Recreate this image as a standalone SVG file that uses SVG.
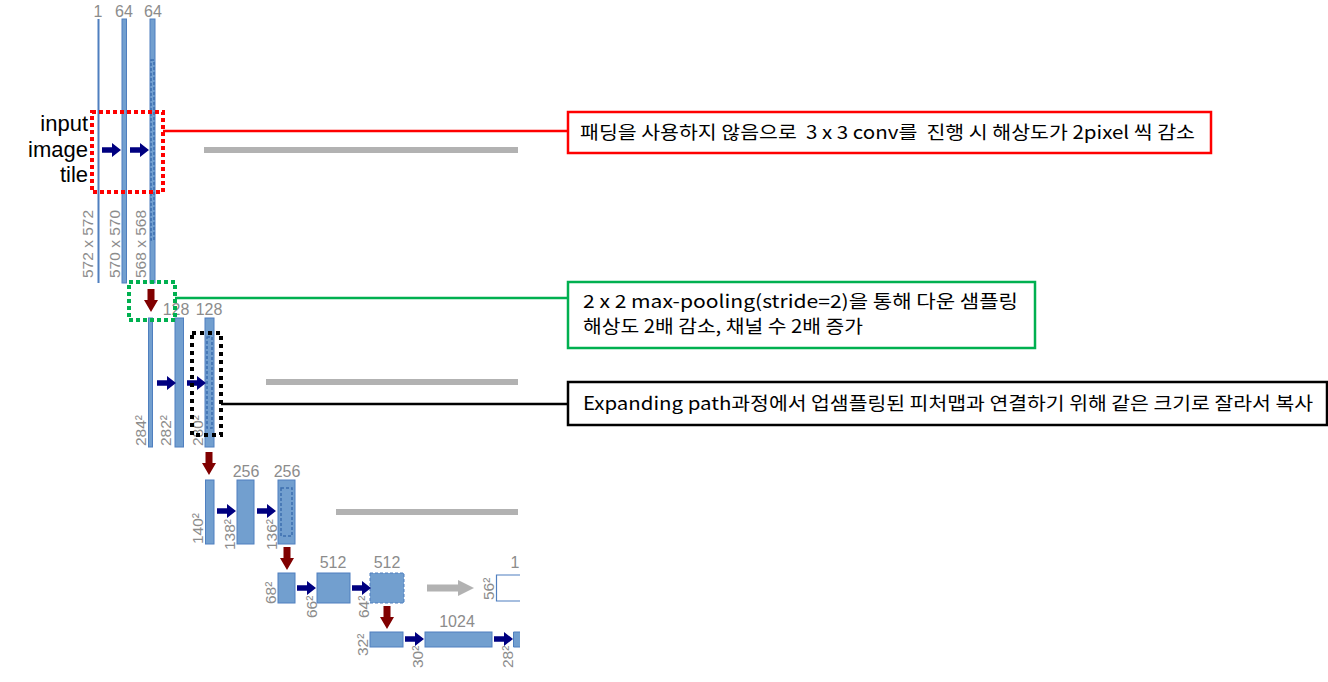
<svg xmlns="http://www.w3.org/2000/svg" width="1328" height="682" viewBox="0 0 1328 682">
<style>
.bar{fill:#729fcf;stroke:#4f7fbf;stroke-width:1}
.num{font-family:"Liberation Sans",Arial,sans-serif;font-size:16px;fill:#8c8c8c}
.dim{font-family:"Liberation Sans",Arial,sans-serif;font-size:15.5px;fill:#8c8c8c}
.kr{font-family:"Noto Sans CJK KR","Noto Sans",sans-serif;font-size:18px;fill:#000}
.lbl{font-family:"Liberation Sans",Arial,sans-serif;font-size:22px;fill:#000;text-anchor:end}
.inner{fill:none;stroke:#3d6fb0;stroke-width:1.5;stroke-dasharray:3 2}
.gray{fill:#b2b2b2}
</style>
<defs>
<path id="ar" d="M0,-2.8 H10 V-7 L19,0 L10,7 V2.8 H0 Z" fill="#000080"/>
<path id="dn" d="M-3.5,0 H3.5 V11 H7 L0,23 L-7,11 H-3.5 Z" fill="#800000"/>
</defs>
<rect width="1328" height="682" fill="#fff"/>

<g id="level1">
<rect x="97.5" y="19" width="2" height="264" fill="#4f7fbf"/>
<rect class="bar" x="122" y="19" width="4.5" height="264"/>
<rect class="bar" x="150" y="19" width="5" height="264"/>
<rect class="inner" x="151" y="60" width="3" height="180"/>
<text class="num" x="98" y="17" text-anchor="middle">1</text>
<text class="num" x="124" y="17" text-anchor="middle">64</text>
<text class="num" x="153" y="17" text-anchor="middle">64</text>
<text class="dim" transform="translate(93,278) rotate(-90)">572 x 572</text>
<text class="dim" transform="translate(120,278) rotate(-90)">570 x 570</text>
<text class="dim" transform="translate(146,278) rotate(-90)">568 x 568</text>
<text class="lbl" x="88" y="131">input</text>
<text class="lbl" x="88" y="157">image</text>
<text class="lbl" x="88" y="182">tile</text>
<use href="#ar" x="102" y="150"/>
<use href="#ar" x="130" y="150"/>
<rect class="gray" x="204" y="147" width="314" height="6"/>
<use href="#dn" x="151" y="289"/>
</g>

<g id="level2">
<rect class="bar" x="148.5" y="318" width="4" height="129"/>
<rect class="bar" x="175" y="318" width="8.5" height="129"/>
<rect class="bar" x="205" y="318" width="9" height="129"/>
<rect class="inner" x="207" y="337" width="5" height="91"/>
<text class="num" x="176" y="315" text-anchor="middle">128</text>
<text class="num" x="209" y="315" text-anchor="middle">128</text>
<text class="dim" transform="translate(146,446) rotate(-90)">284²</text>
<text class="dim" transform="translate(171,446) rotate(-90)">282²</text>
<text class="dim" transform="translate(203,446) rotate(-90)">280²</text>
<use href="#ar" x="157" y="383"/>
<use href="#ar" x="187" y="383"/>
<rect class="gray" x="266" y="379" width="252" height="6"/>
<use href="#dn" x="209" y="452"/>
</g>

<g id="level3">
<rect class="bar" x="205.5" y="480" width="8.5" height="64"/>
<rect class="bar" x="237" y="480" width="17" height="64"/>
<rect class="bar" x="278" y="480" width="17" height="64"/>
<rect class="inner" x="281" y="488" width="11" height="48"/>
<text class="num" x="246" y="477" text-anchor="middle">256</text>
<text class="num" x="287" y="477" text-anchor="middle">256</text>
<text class="dim" transform="translate(203,544) rotate(-90)">140²</text>
<text class="dim" transform="translate(235,550) rotate(-90)">138²</text>
<text class="dim" transform="translate(277,550) rotate(-90)">136²</text>
<use href="#ar" x="217" y="511"/>
<use href="#ar" x="257" y="511"/>
<rect class="gray" x="336" y="509" width="182" height="6"/>
<use href="#dn" x="287" y="547"/>
</g>

<g id="level4">
<rect class="bar" x="278" y="573" width="17" height="30"/>
<rect class="bar" x="317" y="573" width="33" height="30"/>
<rect class="bar" x="370" y="573" width="34" height="30" stroke="#3d6fb0" stroke-dasharray="3 2" stroke-width="1.5"/>
<text class="num" x="333" y="568" text-anchor="middle">512</text>
<text class="num" x="387" y="568" text-anchor="middle">512</text>
<text class="dim" transform="translate(276,604) rotate(-90)">68²</text>
<text class="dim" transform="translate(317,618) rotate(-90)">66²</text>
<text class="dim" transform="translate(369,618) rotate(-90)">64²</text>
<use href="#ar" x="297" y="588"/>
<use href="#ar" x="352" y="588"/>
<path d="M427,584.5 H458 V580 L474,588 L458,596 V591.5 H427 Z" fill="#b2b2b2"/>
<text class="dim" transform="translate(494,600) rotate(-90)">56²</text>
<path d="M520,575 H496.5 V601 H520" fill="#fff" stroke="#4f7fbf" stroke-width="1.2"/>
<text class="num" x="515" y="568" text-anchor="middle">1</text>
<use href="#dn" x="387" y="606"/>
</g>

<g id="level5">
<rect class="bar" x="370" y="632" width="33" height="15"/>
<rect class="bar" x="425" y="632" width="67" height="15"/>
<path d="M520,632 H513.5 V647 H520" fill="#729fcf" stroke="#4f7fbf"/>
<text class="num" x="457" y="627" text-anchor="middle">1024</text>
<text class="dim" transform="translate(368,656) rotate(-90)">32²</text>
<text class="dim" transform="translate(423,668) rotate(-90)">30²</text>
<text class="dim" transform="translate(513,668) rotate(-90)">28²</text>
<use href="#ar" x="405" y="639"/>
<use href="#ar" x="494" y="639"/>
</g>

<g id="connectors" fill="none">
<rect x="92" y="112" width="71" height="80" stroke="#ff0000" stroke-width="4" stroke-dasharray="4 3"/>
<line x1="163" y1="131" x2="568" y2="131" stroke="#ff0000" stroke-width="2.5"/>
<rect x="129" y="282" width="46" height="38" stroke="#00b050" stroke-width="4" stroke-dasharray="4 3"/>
<line x1="175" y1="298" x2="568" y2="298" stroke="#00b050" stroke-width="2.5"/>
<rect x="192" y="333" width="29" height="102" stroke="#000" stroke-width="4" stroke-dasharray="4 4"/>
<line x1="221" y1="404" x2="568" y2="404" stroke="#000" stroke-width="2.5"/>
</g>

<g id="note-padding">
<rect x="568" y="112" width="643" height="41" fill="#fff" stroke="#ff0000" stroke-width="2.5"/>
<text class="kr" x="580" y="139" textLength="615" lengthAdjust="spacingAndGlyphs" xml:space="preserve">패딩을 사용하지 않음으로  3 x 3 conv를  진행 시 해상도가 2pixel 씩 감소</text>
</g>
<g id="note-pooling">
<rect x="568" y="282" width="467" height="66" fill="#fff" stroke="#00b050" stroke-width="2.5"/>
<text class="kr" x="583" y="308" textLength="435" lengthAdjust="spacingAndGlyphs">2 x 2 max-pooling(stride=2)을 통해 다운 샘플링</text>
<text class="kr" x="583" y="333" textLength="280" lengthAdjust="spacingAndGlyphs">해상도 2배 감소, 채널 수 2배 증가</text>
</g>
<g id="note-crop">
<rect x="568" y="382" width="759" height="43" fill="#fff" stroke="#000" stroke-width="2.5"/>
<text class="kr" x="583" y="410" textLength="730" lengthAdjust="spacingAndGlyphs">Expanding path과정에서 업샘플링된 피처맵과 연결하기 위해 같은 크기로 잘라서 복사</text>
</g>
</svg>
